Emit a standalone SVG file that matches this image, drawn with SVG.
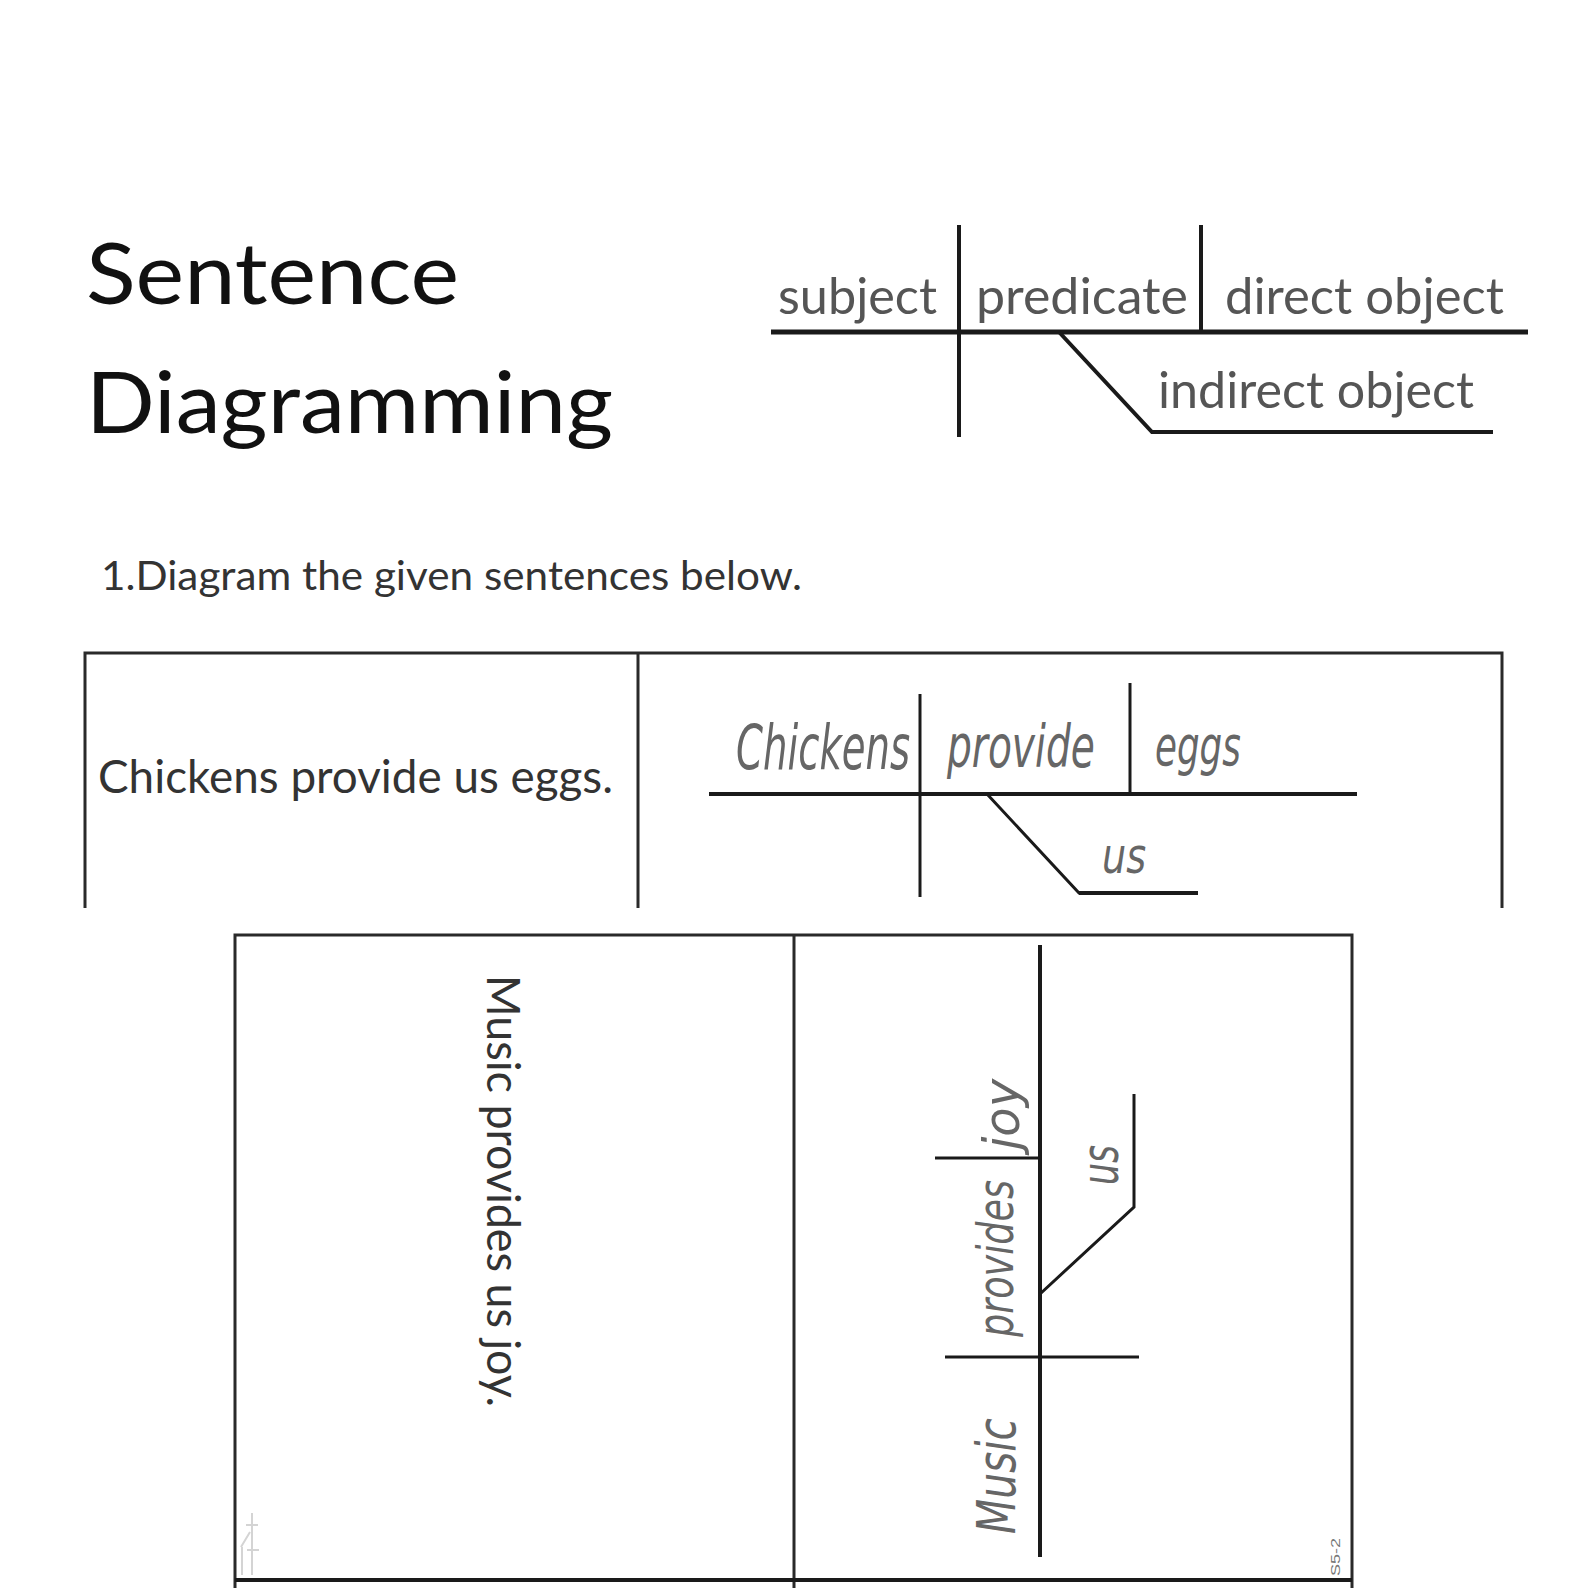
<svg xmlns="http://www.w3.org/2000/svg" width="1588" height="1588" viewBox="0 0 1588 1588">
<style>
.title{font-family:Lato,"Liberation Sans",sans-serif;font-size:86px;fill:#111}
.lbl{font-family:Lato,"Liberation Sans",sans-serif;font-size:50px;fill:#555}
.txt{font-family:Lato,"Liberation Sans",sans-serif;font-size:46px;fill:#333}
.ins{font-family:Lato,"Liberation Sans",sans-serif;font-size:40px;fill:#333}
.cur{font-family:"DejaVu Sans","Liberation Sans",sans-serif;font-style:italic;fill:#666}
.ln{stroke:#1a1a1a;fill:none;stroke-linecap:butt}
.tb{stroke:#2a2a2a;stroke-width:3;fill:none}
.logo{stroke:#d4d4d4;stroke-width:2;fill:none}
</style>
<rect width="1588" height="1588" fill="#fff"/>

<g id="title">
<text class="title" x="86" y="304" textLength="373" lengthAdjust="spacingAndGlyphs">Sentence</text>
<text class="title" x="86" y="433" textLength="527" lengthAdjust="spacingAndGlyphs">Diagramming</text>
</g>

<g id="legend">
<text class="lbl" x="778" y="314" textLength="159" lengthAdjust="spacingAndGlyphs">subject</text>
<text class="lbl" x="976" y="314" textLength="212" lengthAdjust="spacingAndGlyphs">predicate</text>
<text class="lbl" x="1225" y="314" textLength="279" lengthAdjust="spacingAndGlyphs">direct object</text>
<text class="lbl" x="1158" y="408" textLength="316" lengthAdjust="spacingAndGlyphs">indirect object</text>
</g>

<g id="instruction">
<text class="ins" x="101" y="590" textLength="701" lengthAdjust="spacingAndGlyphs">1.Diagram the given sentences below.</text>
</g>

<g id="table1">
<path class="tb" d="M85 908 V653 H1502 V908 M638 653 V908"/>
<text class="txt" x="98" y="793" textLength="515" lengthAdjust="spacingAndGlyphs">Chickens provide us eggs.</text>
<text class="cur" transform="translate(736 769) scale(0.62 1)" font-size="62" textLength="281" lengthAdjust="spacingAndGlyphs">Chickens</text>
<text class="cur" transform="translate(947 767) scale(0.675 1)" font-size="58" textLength="219" lengthAdjust="spacingAndGlyphs">provide</text>
<text class="cur" transform="translate(1155 765) scale(0.64 1)" font-size="56" textLength="134" lengthAdjust="spacingAndGlyphs">eggs</text>
<text class="cur" transform="translate(1102 873) scale(0.76 1)" font-size="50" textLength="58" lengthAdjust="spacingAndGlyphs">us</text>
</g>

<g id="table2">
<path class="tb" d="M235 1588 V935 H1352 V1588 M794 935 V1588"/>
<line class="ln" x1="235" y1="1580" x2="1352" y2="1580" stroke-width="4"/>
<text class="txt" transform="translate(487 975) rotate(90)" x="0" y="0" textLength="432" lengthAdjust="spacingAndGlyphs">Music provides us joy.</text>
<text class="cur" transform="translate(1015 1534) rotate(-90)" font-size="54" textLength="116" lengthAdjust="spacingAndGlyphs">Music</text>
<text class="cur" transform="translate(1013 1337) rotate(-90)" font-size="50" textLength="157" lengthAdjust="spacingAndGlyphs">provides</text>
<text class="cur" transform="translate(1019 1150) rotate(-90)" font-size="50" textLength="71" lengthAdjust="spacingAndGlyphs">joy</text>
<text class="cur" transform="translate(1118 1185) rotate(-90)" font-size="52" textLength="40" lengthAdjust="spacingAndGlyphs">us</text>
<text transform="translate(1340 1576) rotate(-90)" font-family="Liberation Sans, sans-serif" font-size="12" fill="#777" textLength="38" lengthAdjust="spacingAndGlyphs">S5-2</text>
<g id="logo">
<path class="logo" d="M252 1513 V1575 M247 1550 H259 M246 1525 H258 M242 1547 V1575 M241 1547 L250 1532"/>
</g>
</g>

<g id="connectors">
<g id="legend-lines">
<line class="ln" x1="771" y1="332" x2="1528" y2="332" stroke-width="5"/>
<line class="ln" x1="959" y1="225" x2="959" y2="437" stroke-width="4"/>
<line class="ln" x1="1201" y1="225" x2="1201" y2="332" stroke-width="4"/>
<path class="ln" d="M1059 332 L1152 432 H1493" stroke-width="4"/>
</g>
<g id="chickens-lines">
<line class="ln" x1="709" y1="794" x2="1357" y2="794" stroke-width="4"/>
<line class="ln" x1="920" y1="694" x2="920" y2="897" stroke-width="3"/>
<line class="ln" x1="1130" y1="683" x2="1130" y2="794" stroke-width="3"/>
<path class="ln" d="M987 794 L1079 893 H1198" stroke-width="3"/>
<line class="ln" x1="1079" y1="893" x2="1198" y2="893" stroke-width="4"/>
</g>
<g id="music-lines">
<line class="ln" x1="1040" y1="945" x2="1040" y2="1557" stroke-width="4"/>
<line class="ln" x1="935" y1="1158" x2="1040" y2="1158" stroke-width="3"/>
<line class="ln" x1="945" y1="1357" x2="1139" y2="1357" stroke-width="3"/>
<path class="ln" d="M1040 1294 L1134 1207 V1094" stroke-width="3"/>
</g>
</g>
</svg>
